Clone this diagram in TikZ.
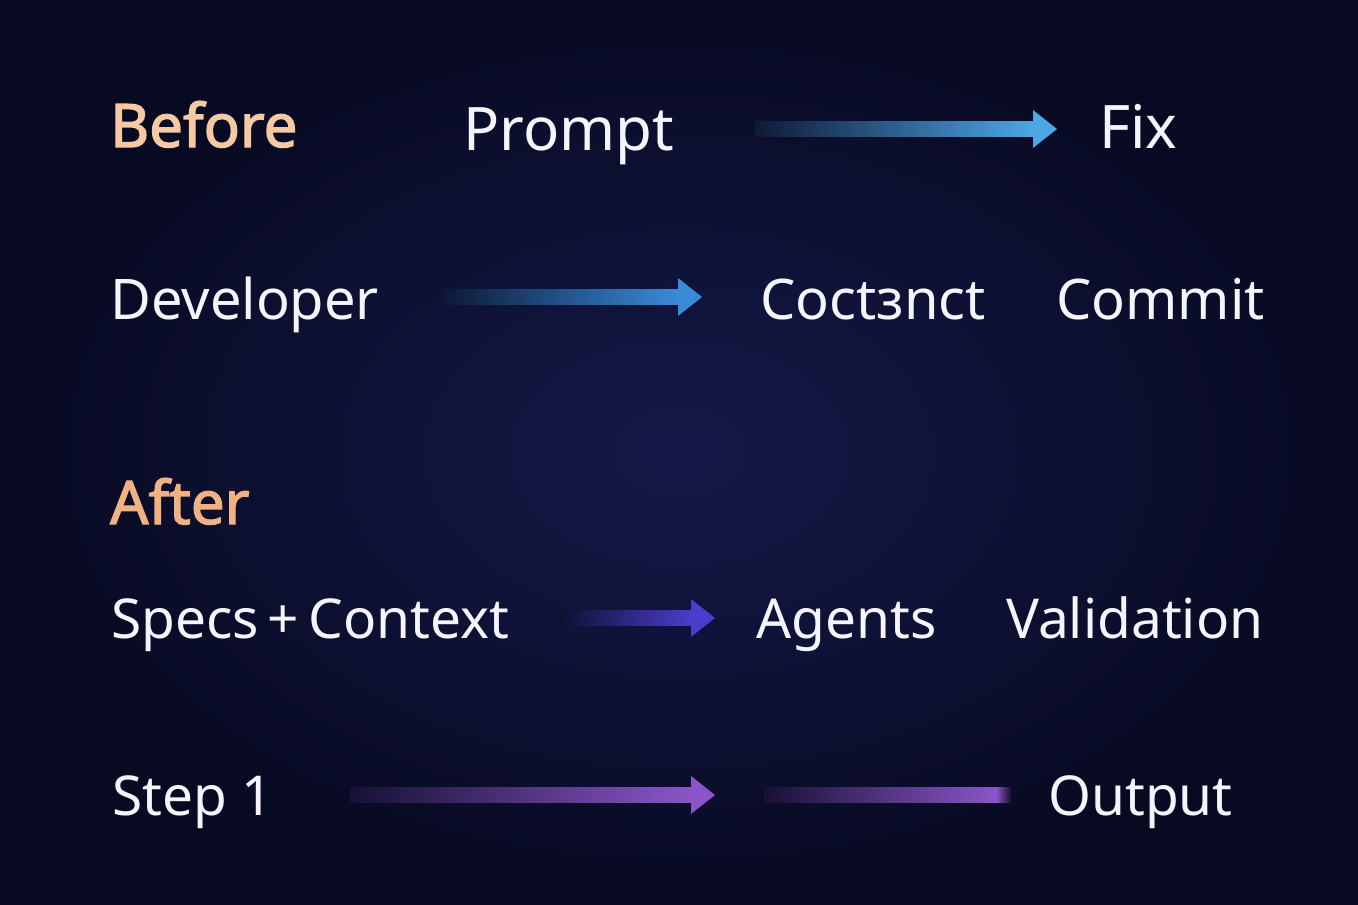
\documentclass[tikz,border=0pt]{standalone}
\usepackage{fontspec}
\setmainfont{Noto Sans}
\newfontfamily\headfont{Noto Sans}[FakeBold=2.2]
\usetikzlibrary{calc}
\definecolor{bgcenter}{HTML}{141948}
\definecolor{bgedge}{HTML}{080A22}
\definecolor{peach}{HTML}{F6C9A2}
\definecolor{apricot}{HTML}{F0B283}
\definecolor{skyblue}{HTML}{4DA6E6}
\definecolor{midblue}{HTML}{3A8AD8}
\definecolor{indigo}{HTML}{4C3CCB}
\definecolor{violet}{HTML}{8B55C9}
\tikzset{
	word/.style={anchor=base west,inner sep=0pt,text=white!96!blue,font=\fontsize{55}{66}\selectfont},
	big word/.style={word,font=\fontsize{60}{72}\selectfont},
	heading/.style={word,font=\fontsize{60}{72}\headfont}
}
% shaft fading in from the left, solid head at the right
\newcommand{\glowarrow}[3]{%
	\shade[left color=#3!10!bgedge,right color=#3] ($(#1)+(0,-7.5)$) rectangle ($(#2)+(-24,7.5)$);
	\fill[#3] ($(#2)+(-24,-19)$) -- (#2) -- ($(#2)+(-24,19)$) -- cycle;}

\begin{document}
\begin{tikzpicture}[x=1pt,y=-1pt]
	\shade[inner color=bgcenter,outer color=bgedge] (0,0) rectangle (1358,905);
	\useasboundingbox (0,0) rectangle (1358,905);

	% before
	\node [heading,text=peach] (before) at (110,147) {Before};
	\node [big word] (prompt) at (463,150) {Prompt};
	\node [big word] (fix) at (1099,148) {Fix};
	\coordinate (p1) at (755,129);
	\coordinate (p2) at (1057,129);
	\glowarrow{p1}{p2}{skyblue}

	\node [word,font=\fontsize{56}{66}\selectfont] (dev) at (110,319) {Developer};
	\node [word,font=\fontsize{56}{66}\selectfont] (ctx) at (760,319) {Coctɜnct};
	\node [word,font=\fontsize{56}{66}\selectfont] (commit) at (1056,319) {Commit};
	\coordinate (d1) at (440,297);
	\coordinate (d2) at (702,297);
	\glowarrow{d1}{d2}{midblue}

	% after
	\node [heading,text=apricot] (after) at (110,524) {After};
	\node [word] (specs) at (111,638) {Specs\hspace{9pt}+\hspace{9pt}Context};
	\node [word] (agents) at (756,638) {Agents};
	\node [word] (valid) at (1006,638) {Validation};
	\coordinate (s1) at (560,618);
	\coordinate (s2) at (715,618);
	\glowarrow{s1}{s2}{indigo}

	\node [word] (step) at (112,815) {Step 1};
	\node [word] (output) at (1048,815) {Output};
	\coordinate (t1) at (350,795);
	\coordinate (t2) at (715,795);
	\glowarrow{t1}{t2}{violet}
	\coordinate (b1) at (764,795);
	\coordinate (b2) at (1012,795);
	\shade[left color=violet!10!bgedge,right color=violet] ($(b1)+(0,-7.5)$) rectangle ($(b2)+(-16,7.5)$);
	\shade[left color=violet,right color=bgedge] ($(b2)+(-16,-7.5)$) rectangle ($(b2)+(0,7.5)$);
\end{tikzpicture}
\end{document}
